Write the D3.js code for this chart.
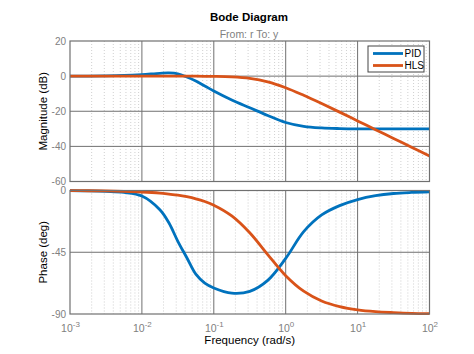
<!DOCTYPE html>
<html>
<head>
<meta charset="utf-8">
<script src="https://cdn.jsdelivr.net/npm/d3@7"></script>
<style>
  body { margin: 0; background: #fff; }
  text { font-family: "Liberation Sans", Arial, sans-serif; }
</style>
</head>
<body>
<script>
// frequency samples, as powers of ten (rad/s)
const freqExp = [-3, -2.75, -2.5, -2.25, -2, -1.75, -1.625, -1.5, -1.375, -1.25, -1.125, -1,
  -0.75, -0.5, -0.25, 0, 0.25, 0.5, 0.75, 1, 1.25, 1.5, 1.75, 2];

// magnitude (dB)
const pidMag = [0, 0.05, 0.15, 0.4, 0.9, 1.6, 1.8, 1.3, -0.5, -2.8, -5.6, -8.5,
  -13.6, -18, -22.4, -26.4, -28.6, -29.5, -29.85, -30, -30, -30, -30, -30];
const hlsMag = [0, 0, 0, 0, 0, 0, -0.01, -0.02, -0.03, -0.05, -0.09, -0.15,
  -0.46, -1.32, -3.27, -6.59, -10.9, -15.6, -20.5, -25.5, -30.5, -35.5, -40.5, -45.5];

// phase (deg)
const pidPhase = [-0.1, -0.3, -0.7, -1.4, -4, -14, -23.5, -37, -49, -61, -67.5, -71,
  -74.8, -73.5, -65.5, -49.5, -30, -17.8, -11, -6.6, -3.8, -2.2, -1.4, -0.9];
const hlsPhase = [-0.1, -0.2, -0.34, -0.61, -1.08, -1.9, -2.6, -3.4, -4.55, -6.05, -8.05, -10.7,
  -18.5, -30.8, -46.7, -62.1, -73.4, -80.5, -84.6, -87.0, -88.3, -89.0, -89.5, -89.7];

const seriesNames = ["PID", "HLS"];
const colors = { PID: "#0072BD", HLS: "#D95319" };

const magTicks = [20, 0, -20, -40, -60];
const phaseTicks = [0, -45, -90];
const freqTicks = [1e-3, 1e-2, 1e-1, 1e0, 1e1, 1e2];

const width = 474, height = 354;
const svg = d3.select("body").append("svg")
  .attr("width", width).attr("height", height);

const x = d3.scaleLog().domain([1e-3, 1e2]).range([70, 429.5]);
const yMag = d3.scaleLinear().domain([-60, 20]).range([181.5, 41]);
const yPhase = d3.scaleLinear().domain([-90, 0]).range([314, 190.5]);

// minor frequencies 2..9 per decade
const minorFreqs = [];
for (let e = -3; e < 2; e++) {
  for (let k = 2; k <= 9; k++) minorFreqs.push(k * Math.pow(10, e));
}

function drawPanel(y, ticks, series, yLabel) {
  const [y0, y1] = y.range();
  const g = svg.append("g");

  // minor grid
  g.selectAll(".minor").data(minorFreqs).join("line")
    .attr("x1", d => x(d)).attr("x2", d => x(d))
    .attr("y1", y1).attr("y2", y0)
    .attr("stroke", "#c4c4c4").attr("stroke-width", 0.8)
    .attr("stroke-dasharray", "1,2");

  // major grid
  g.selectAll(".vmajor").data(freqTicks.slice(1, -1)).join("line")
    .attr("x1", d => x(d)).attr("x2", d => x(d))
    .attr("y1", y1).attr("y2", y0)
    .attr("stroke", "#707070").attr("stroke-width", 1);
  g.selectAll(".hmajor").data(ticks.slice(1, -1)).join("line")
    .attr("x1", x.range()[0]).attr("x2", x.range()[1])
    .attr("y1", d => y(d)).attr("y2", d => y(d))
    .attr("stroke", "#707070").attr("stroke-width", 1);

  // curves
  const line = d3.line()
    .x(d => x(d[0]))
    .y(d => y(d[1]))
    .curve(d3.curveCatmullRom.alpha(0.5));
  series.forEach(s => {
    g.append("path")
      .datum(freqExp.map((e, i) => [Math.pow(10, e), s.values[i]]))
      .attr("fill", "none")
      .attr("stroke", colors[s.name])
      .attr("stroke-width", 2.8)
      .attr("d", line);
  });

  // y axis
  const yAxis = d3.axisLeft(y).tickValues(ticks).tickSize(0).tickPadding(4)
    .tickFormat(d => String(d));
  g.append("g")
    .attr("transform", `translate(${x.range()[0]},0)`)
    .call(yAxis)
    .call(a => a.select(".domain").remove())
    .selectAll("text")
    .attr("fill", "#808080")
    .style("font-size", "10px");

  // box
  g.append("rect")
    .attr("x", x.range()[0]).attr("y", y1)
    .attr("width", x.range()[1] - x.range()[0]).attr("height", y0 - y1)
    .attr("fill", "none").attr("stroke", "#707070").attr("stroke-width", 1.2);

  svg.append("text")
    .attr("transform", `translate(47,${(y0 + y1) / 2}) rotate(-90)`)
    .attr("text-anchor", "middle")
    .style("font-size", "11.5px")
    .attr("fill", "#000")
    .text(yLabel);
  return g;
}

drawPanel(yMag, magTicks, [
  { name: "PID", values: pidMag },
  { name: "HLS", values: hlsMag }
], "Magnitude (dB)");

drawPanel(yPhase, phaseTicks, [
  { name: "PID", values: pidPhase },
  { name: "HLS", values: hlsPhase }
], "Phase (deg)");

// x axis with superscript labels
const xAxis = d3.axisBottom(x).tickValues(freqTicks).tickSize(0).tickPadding(0);
const xg = svg.append("g")
  .attr("transform", `translate(0,${yPhase.range()[0]})`)
  .call(xAxis)
  .call(a => a.select(".domain").remove());
xg.selectAll("text").each(function (d) {
  const t = d3.select(this);
  t.text(null).attr("y", 18).attr("dy", null)
    .attr("fill", "#808080").style("font-size", "10.5px");
  t.append("tspan").text("10");
  t.append("tspan").attr("dy", -5).style("font-size", "8px")
    .text(String(Math.round(Math.log10(d))));
});

svg.append("text")
  .attr("x", (x.range()[0] + x.range()[1]) / 2).attr("y", 344)
  .attr("text-anchor", "middle")
  .style("font-size", "11.5px")
  .text("Frequency  (rad/s)");

// titles
svg.append("text")
  .attr("x", 249).attr("y", 21)
  .attr("text-anchor", "middle")
  .style("font-size", "11.5px").style("font-weight", "bold")
  .text("Bode Diagram");
svg.append("text")
  .attr("x", 249).attr("y", 38)
  .attr("text-anchor", "middle")
  .attr("fill", "#808080")
  .style("font-size", "10.5px")
  .text("From: r  To: y");

// legend
const lg = svg.append("g").attr("transform", "translate(368,46)");
lg.append("rect").attr("width", 56).attr("height", 26)
  .attr("fill", "#fff").attr("stroke", "#444").attr("stroke-width", 1);
seriesNames.forEach((n, i) => {
  const yy = 7.5 + i * 12;
  lg.append("line").attr("x1", 5).attr("x2", 35).attr("y1", yy).attr("y2", yy)
    .attr("stroke", colors[n]).attr("stroke-width", 2.8);
  lg.append("text").attr("x", 36.5).attr("y", yy + 3.6)
    .style("font-size", "10px").text(n);
});
</script>
</body>
</html>
